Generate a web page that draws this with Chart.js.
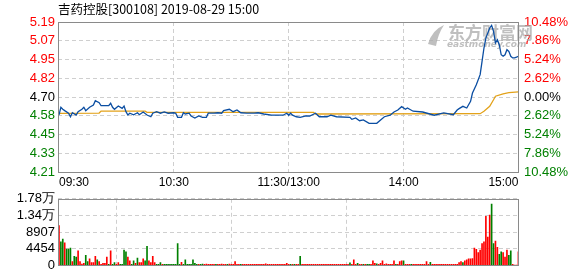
<!DOCTYPE html>
<html>
<head>
<meta charset="utf-8">
<script src="https://cdn.jsdelivr.net/npm/chart.js@4.4.0/dist/chart.umd.min.js"></script>
<style>
  body { margin: 0; background: #fff; }
  #wrap { position: relative; width: 578px; height: 276px; }
  #title { position: absolute; left: 58px; top: 0; font: 12.5px "Noto Sans CJK SC", sans-serif; line-height: 18px; color: #000; }
  #price { position: absolute; left: 0; top: 0; }
  #vol { position: absolute; left: 0; top: 188px; }
</style>
</head>
<body>
<div id="wrap">
  <canvas id="price" width="578" height="190"></canvas>
  <canvas id="vol" width="578" height="88"></canvas>
  <div id="title">吉药控股[300108] 2019-08-29 15:00</div>
</div>
<script>
// tick labels
var timeLabels = ['09:30', '10:30', '11:30/13:00', '14:00', '15:00'];
var timeTickIdx = [0, 60, 120, 180, 240];
var priceTicks = ['4.21', '4.33', '4.45', '4.58', '4.70', '4.82', '4.95', '5.07', '5.19'];
var pctTicks = ['10.48%', '7.86%', '5.24%', '2.62%', '0.00%', '2.62%', '5.24%', '7.86%', '10.48%'];
var volTicks = ['0', '4454', '8907', '1.34万', '1.78万'];
var priceMin = 4.21, priceMax = 5.19, volMax = 17816;

// minute line (minute index -> price)
var priceIdx = [0, 1, 2, 3, 5, 6, 7, 9, 10, 12, 13, 14, 16, 18, 19, 21, 22, 26, 27, 28,
  29, 31, 33, 34, 35, 36, 37, 39, 41, 42, 44, 46, 48, 49, 51, 53, 55, 57, 60, 61,
  62, 64, 65, 66, 68, 69, 71, 73, 75, 77, 78, 81, 83, 85, 86, 89, 91, 93, 95, 98,
  102, 104, 107, 111, 117, 119, 120, 121, 122, 124, 126, 129, 131, 134, 136, 140, 142, 145, 152, 153,
  155, 157, 159, 162, 166, 168, 170, 173, 175, 177, 179, 181, 182, 185, 190, 196, 201, 206, 208, 209,
  211, 213, 215, 216, 218, 220, 221, 222, 223, 225, 226, 227, 228, 229, 230, 231, 232, 233, 234, 235,
  236, 237, 238, 239, 240];
var priceVal = [4.582, 4.633, 4.620, 4.611, 4.594, 4.571, 4.597, 4.582, 4.604, 4.620, 4.633, 4.611, 4.633, 4.648, 4.676, 4.663, 4.643, 4.643, 4.659, 4.633,
  4.620, 4.641, 4.626, 4.641, 4.604, 4.582, 4.594, 4.584, 4.597, 4.584, 4.602, 4.582, 4.571, 4.594, 4.604, 4.594, 4.602, 4.594, 4.597, 4.594,
  4.567, 4.567, 4.597, 4.589, 4.594, 4.576, 4.563, 4.576, 4.567, 4.567, 4.594, 4.594, 4.597, 4.594, 4.611, 4.620, 4.604, 4.615, 4.597, 4.594,
  4.594, 4.597, 4.589, 4.581, 4.581, 4.594, 4.581, 4.594, 4.581, 4.571, 4.567, 4.576, 4.576, 4.594, 4.571, 4.571, 4.581, 4.571, 4.567, 4.554,
  4.563, 4.545, 4.550, 4.528, 4.528, 4.550, 4.571, 4.581, 4.602, 4.615, 4.637, 4.620, 4.628, 4.607, 4.602, 4.581, 4.596, 4.584, 4.615, 4.624,
  4.639, 4.628, 4.672, 4.726, 4.780, 4.846, 4.933, 5.020, 5.085, 5.151, 5.168, 5.129, 5.053, 5.074, 5.042, 4.976, 4.966, 4.976, 5.009, 4.998,
  4.966, 4.955, 4.955, 4.960, 4.966];

// average price line
var avgIdx = [0, 21, 22, 45, 46, 133, 134, 220, 222, 225, 227, 228, 232, 235, 240];
var avgVal = [4.593, 4.595, 4.608, 4.608, 4.600, 4.600, 4.589, 4.591, 4.607, 4.639, 4.682, 4.705, 4.720, 4.728, 4.733];

// volume per minute and direction (r = up, g = down)
var volume = [10600, 6260, 6980, 6020, 4330, 4330, 4575, 960, 2400, 2170, 3850, 960, 320, 480, 2650, 960, 1690, 720, 720, 2400,
  1440, 960, 240, 480, 480, 2170, 240, 3850, 240, 720, 240, 720, 240, 240, 4090, 3610, 2170, 1200, 240, 1200,
  480, 1930, 720, 720, 1690, 1200, 5060, 1200, 720, 2400, 720, 240, 240, 720, 240, 240, 240, 240, 240, 240,
  240, 240, 5780, 240, 800, 240, 1440, 240, 240, 240, 1440, 480, 240, 240, 240, 300, 240, 300, 240, 240,
  240, 240, 240, 240, 240, 300, 240, 240, 240, 300, 240, 240, 960, 240, 240, 240, 240, 240, 240, 240,
  240, 240, 240, 240, 240, 240, 240, 240, 400, 240, 240, 240, 240, 240, 240, 240, 240, 240, 240, 480,
  240, 240, 240, 240, 240, 240, 2400, 240, 240, 240, 240, 240, 240, 240, 240, 240, 240, 240, 240, 240,
  240, 240, 240, 240, 240, 240, 240, 240, 240, 240, 240, 240, 640, 240, 1440, 240, 480, 240, 240, 240,
  240, 240, 240, 240, 1200, 480, 400, 240, 480, 1200, 240, 400, 240, 240, 240, 1200, 240, 240, 960, 1200,
  1200, 240, 240, 240, 240, 240, 240, 240, 240, 240, 240, 240, 960, 240, 800, 240, 240, 240, 240, 240,
  240, 240, 240, 240, 240, 240, 240, 240, 240, 720, 960, 720, 1200, 1440, 1690, 1690, 1770, 4570, 4250, 3370,
  4090, 5780, 6260, 13080, 7540, 13480, 16370, 5780, 6500, 4820, 2890, 3610, 3370, 2170, 4090, 2650, 3850, 240, 0, 0,
  3610];
var volDir = 'rggrgggrggrrrrggrrrr' + 'grrrrrgrggrrggggrrgg' + 'rgrrrggrrrrgggrggggg' +
  'ggggrggggggggrggrrrr' + 'rrgrrrrrgrrrrrrgrrrr' + 'rrrrrrrrrrrrrrrrrrrr' +
  'rgrgrrgrrrrrrrrrrrrr' + 'rrrrrrrrrrrrgrrrgrrg' + 'rggrrrgrrrrrrrrrgrrr' +
  'grrrgrrrrrrrrrgrrrrr' + 'rrrrrrrrrrrgrrrrrrrr' + 'rrrrrrggrrggrrrggrrr' + 'r';

var RED = '#ff0000', GREEN = '#008000', GRID = '#cfcfcf';

function pairs(xs, ys) {
    return xs.map(function(x, k) { return {x: x, y: ys[k]}; });
}

function tickColor(ctx) {
    if (ctx.index < 4) return GREEN;
    if (ctx.index === 4) return '#000';
    return RED;
}

var xScale = {
    type: 'linear', min: -0.5, max: 240.3, offset: false,
    afterBuildTicks: function(s) { s.ticks = timeTickIdx.map(function(v) { return {value: v}; }); },
    afterFit: function(s) { s.height = 18; },
    ticks: {
        align: 'inner', padding: 3, color: '#000', autoSkip: false, maxRotation: 0,
        font: {family: 'Liberation Sans', size: 12},
        callback: function(v, i) { return timeLabels[i]; }
    },
    grid: {
        drawTicks: false,
        color: function(ctx) { return (ctx.tick && ctx.tick.value > 0 && ctx.tick.value < 240) ? GRID : 'rgba(0,0,0,0)'; }
    },
    border: {display: false, dash: [4, 3]}
};

var frame = {
    id: 'frame',
    afterDraw: function(chart) {
        var a = chart.chartArea, c = chart.ctx;
        c.save();
        c.strokeStyle = '#8a8a8a';
        c.lineWidth = 1;
        c.strokeRect(Math.round(a.left) + 0.5, Math.round(a.top) + 0.5, Math.round(a.right - a.left) - 1, Math.round(a.bottom - a.top));
        c.restore();
    }
};

var watermark = {
    id: 'watermark',
    beforeDatasetsDraw: function(chart) {
        var c = chart.ctx;
        c.save();
        c.fillStyle = 'rgba(170,170,170,0.75)';
        c.font = 'bold 17px "Noto Sans CJK SC"';
        c.fillText('东方财富网', 448, 39);
        c.font = 'bold italic 9px "DejaVu Sans"';
        c.fillText('eastmoney.com', 447, 47);
        // logo swoosh
        c.beginPath();
        c.moveTo(428, 44);
        c.quadraticCurveTo(432, 30, 444, 25);
        c.quadraticCurveTo(438, 34, 436, 46);
        c.closePath();
        c.fill();
        c.restore();
    }
};

new Chart(document.getElementById('price'), {
    type: 'line',
    data: {
        datasets: [{
            data: pairs(priceIdx, priceVal),
            borderColor: '#0b4ea2', borderWidth: 1.3, pointRadius: 0, tension: 0
        }, {
            data: pairs(avgIdx, avgVal),
            borderColor: '#e3a21a', borderWidth: 1.3, pointRadius: 0, tension: 0
        }]
    },
    options: {
        responsive: false,
        animation: false,
        events: [],
        layout: {padding: {top: 22, left: 0, right: 0, bottom: 0}},
        plugins: {legend: {display: false}, tooltip: {enabled: false}},
        scales: {
            x: xScale,
            y: {
                position: 'left', min: priceMin, max: priceMax,
                afterBuildTicks: function(s) {
                    s.ticks = priceTicks.map(function(t, k) { return {value: priceMin + k * (priceMax - priceMin) / 8}; });
                },
                afterFit: function(s) { s.width = 58; },
                ticks: {
                    padding: 3, color: tickColor, autoSkip: false,
                    font: {family: 'Liberation Sans', size: 13},
                    callback: function(v, i) { return priceTicks[i]; }
                },
                grid: {drawTicks: false, color: GRID},
                border: {display: false, dash: [4, 3]}
            },
            pct: {
                position: 'right', min: priceMin, max: priceMax,
                afterBuildTicks: function(s) {
                    s.ticks = pctTicks.map(function(t, k) { return {value: priceMin + k * (priceMax - priceMin) / 8}; });
                },
                afterFit: function(s) { s.width = 59; },
                ticks: {
                    padding: 5, color: tickColor, autoSkip: false,
                    font: {family: 'Liberation Sans', size: 13},
                    callback: function(v, i) { return pctTicks[i]; }
                },
                grid: {display: false, drawTicks: false},
                border: {display: false}
            }
        }
    },
    plugins: [watermark, frame]
});

var volX = Object.assign({}, xScale, {
    afterFit: function(s) { s.height = 0; },
    ticks: {display: false}
});

new Chart(document.getElementById('vol'), {
    type: 'bar',
    data: {
        datasets: [{
            data: volume.map(function(v, i) { return {x: i, y: v}; }),
            backgroundColor: volume.map(function(v, i) { return volDir[i] === 'g' ? GREEN : RED; }),
            barThickness: 1
        }]
    },
    options: {
        responsive: false,
        animation: false,
        events: [],
        layout: {padding: {top: 8, left: 0, right: 59, bottom: 6}},
        plugins: {legend: {display: false}, tooltip: {enabled: false}},
        scales: {
            x: volX,
            y: {
                position: 'left', min: 0, max: volMax,
                afterBuildTicks: function(s) {
                    s.ticks = volTicks.map(function(t, k) { return {value: k * volMax / 4}; });
                },
                afterFit: function(s) { s.width = 58; },
                ticks: {
                    padding: 3, color: '#000', autoSkip: false,
                    font: {family: 'Liberation Sans', size: 13},
                    callback: function(v, i) { return volTicks[i]; }
                },
                grid: {drawTicks: false, color: GRID},
                border: {display: false, dash: [4, 3]}
            }
        }
    },
    plugins: [frame]
});
</script>
</body>
</html>
